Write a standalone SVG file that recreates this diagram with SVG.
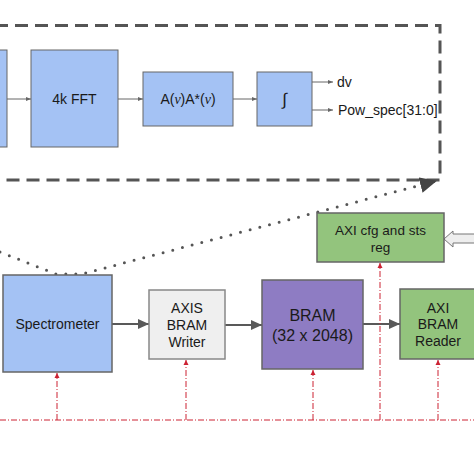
<svg xmlns="http://www.w3.org/2000/svg" width="474" height="474" viewBox="0 0 474 474">
<defs>
<style>
text{font-family:"Liberation Sans",Arial,sans-serif;fill:#1a1a1a;text-anchor:middle}
.blue{fill:#a4c2f4;stroke:#666;stroke-width:1}
.bb{fill:#a4c2f4;stroke:#666;stroke-width:1.5}
.green{fill:#93c47d;stroke:#666;stroke-width:1.5}
.gray{fill:#efefef;stroke:#888;stroke-width:1.5}
.purple{fill:#8e7cc3;stroke:#666;stroke-width:1.5}
.thin{stroke:#666;stroke-width:1;fill:none;marker-end:url(#sa)}
.thick{stroke:#595959;stroke-width:2;fill:none;marker-end:url(#la)}
.red{stroke:#cc2233;stroke-width:1;fill:none;stroke-dasharray:6 2 1 2}
.redv{stroke:#cc2233;stroke-width:1;fill:none;stroke-dasharray:6 2 1 2;marker-end:url(#ra)}
</style>
<marker id="sa" markerWidth="6" markerHeight="6" refX="5" refY="3" orient="auto" markerUnits="userSpaceOnUse"><path d="M0,1 L5,3 L0,5 Z" fill="#666"/></marker>
<marker id="la" markerWidth="12" markerHeight="12" refX="11" refY="6" orient="auto" markerUnits="userSpaceOnUse"><path d="M0,1 L11,6 L0,11 Z" fill="#595959"/></marker>
<marker id="ra" markerWidth="6" markerHeight="6" refX="5" refY="3" orient="auto" markerUnits="userSpaceOnUse"><path d="M0,0.5 L5,3 L0,5.5 Z" fill="#cc2233"/></marker>
<marker id="da" markerWidth="20" markerHeight="16" refX="16" refY="8" orient="auto" markerUnits="userSpaceOnUse"><path d="M0,0 L17,8 L0,16 Z" fill="#444"/></marker>
</defs>
<g id="zoom-box">
<path d="M-5,25.5 H440 V180 H-5" fill="none" stroke="#555" stroke-width="3" stroke-dasharray="13 7"/>
</g>
<g id="connectors">
<line class="thin" x1="7" y1="99" x2="31" y2="99"/>
<line class="thin" x1="118" y1="99" x2="143" y2="99"/>
<line class="thin" x1="233" y1="99" x2="257" y2="99"/>
<line class="thin" x1="312" y1="82" x2="333" y2="82"/>
<line class="thin" x1="312" y1="110" x2="333" y2="110"/>
<path d="M0,252 L56,274 L82,274 L436,181" fill="none" stroke="#555" stroke-width="3" stroke-linecap="round" stroke-dasharray="0 10" marker-end="url(#da)"/>
<line class="thick" x1="112" y1="324" x2="149" y2="324"/>
<line class="thick" x1="225" y1="325" x2="262" y2="325"/>
<line class="thick" x1="363" y1="324" x2="400" y2="324"/>
<line class="red" x1="0" y1="420" x2="474" y2="420"/>
<line class="redv" x1="57" y1="420" x2="57" y2="373"/>
<line class="redv" x1="186" y1="420" x2="186" y2="360"/>
<line class="redv" x1="313" y1="420" x2="313" y2="370"/>
<line class="redv" x1="380" y1="420" x2="380" y2="263"/>
<line class="redv" x1="438" y1="420" x2="438" y2="360"/>
<path d="M444,239 L453,231 L453,234 L476,234 L476,243 L453,243 L453,247 Z" fill="#eeeeee" stroke="#777" stroke-width="1"/>
</g>
<g id="input-block"><rect class="blue" x="-5" y="50" width="12" height="97"/></g>
<g id="fft"><rect class="blue" x="31" y="50" width="87" height="97"/><text x="74.5" y="104" font-size="14">4k FFT</text></g>
<g id="mag"><rect class="blue" x="143" y="72" width="90" height="54"/><text x="188" y="104" font-size="14">A(<tspan font-family="Liberation Serif,serif" font-style="italic">ν</tspan>)A*(<tspan font-family="Liberation Serif,serif" font-style="italic">ν</tspan>)</text></g>
<g id="integ"><rect class="blue" x="257" y="72" width="55" height="54"/><text x="284.5" y="105" font-size="17" font-family="DejaVu Serif,serif">∫</text></g>
<g id="out-labels">
<text x="337" y="87" font-size="14" style="text-anchor:start">dv</text>
<text x="338" y="115" font-size="14" style="text-anchor:start">Pow_spec[31:0]</text>
</g>
<g id="spectrometer"><rect class="bb" x="3" y="275" width="109" height="97"/><text x="57.5" y="329" font-size="14">Spectrometer</text></g>
<g id="writer"><rect class="gray" x="149" y="290" width="76" height="69"/><text x="187" y="313" font-size="14">AXIS</text><text x="187" y="330" font-size="14">BRAM</text><text x="187" y="347" font-size="14">Writer</text></g>
<g id="bram"><rect class="purple" x="262" y="280" width="101" height="89"/><text x="312.5" y="321" font-size="16">BRAM</text><text x="312.5" y="341" font-size="16">(32 x 2048)</text></g>
<g id="reader"><rect class="green" x="400" y="289" width="80" height="70"/><text x="438" y="313" font-size="14">AXI</text><text x="438" y="329" font-size="14">BRAM</text><text x="438" y="346" font-size="14">Reader</text></g>
<g id="cfg"><rect class="green" x="317" y="213" width="127" height="49"/><text x="380.5" y="235" font-size="13.5">AXI cfg and sts</text><text x="380.5" y="252" font-size="13.5">reg</text></g>
</svg>
